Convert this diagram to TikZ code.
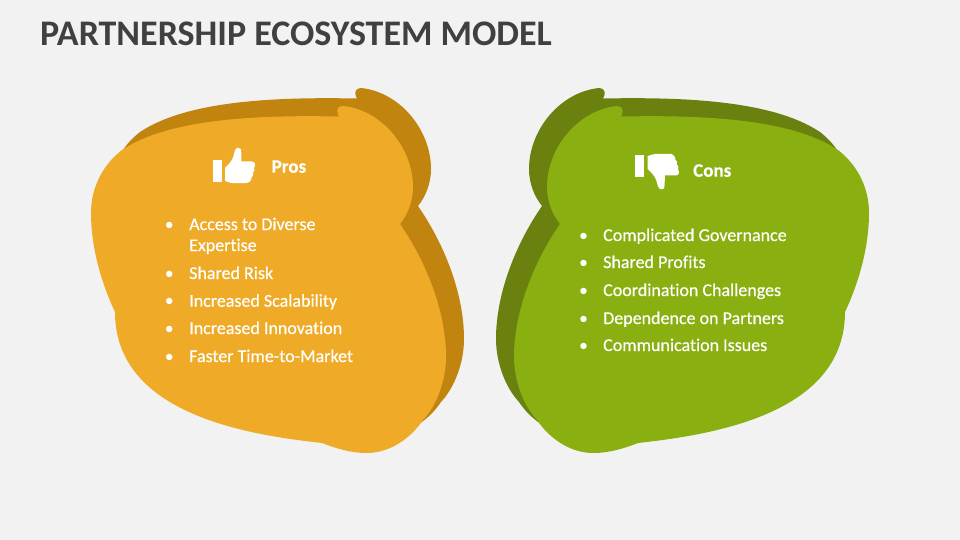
\documentclass[tikz,border=0pt]{standalone}
\usepackage{fontspec}
\setmainfont{Carlito}[Ligatures=NoCommon]
\newfontfamily\itemfont{Carlito}[Ligatures=NoCommon,FakeBold=0.35]
\newfontfamily\headfont{Carlito Bold}[Ligatures=NoCommon,FakeBold=0.3]
\definecolor{pagebg}{HTML}{F2F2F2}
\definecolor{titlegrey}{HTML}{404040}
\definecolor{orangefront}{HTML}{EFAB28}
\definecolor{orangeback}{HTML}{C1840F}
\definecolor{greenfront}{HTML}{8AAF11}
\definecolor{greenback}{HTML}{6A800F}
\newcommand{\blobshape}[1]{\fill[#1] (339,116.5)
  .. controls (337,113) and (335,107) .. (343,106)
  .. controls (382,110) and (413,148) .. (413,187)
  .. controls (413,201) and (408,214) .. (400,224)
  .. controls (425,260) and (446,310) .. (446,357)
  .. controls (446,380) and (437,405) .. (423,420)
  .. controls (411,438) and (390,453) .. (367,453)
  .. controls (350,453) and (335,448) .. (322,443)
  .. controls (250,435) and (115,415) .. (115,312)
  .. controls (100,280) and (91,245) .. (91,213)
  .. controls (91,185) and (105,163) .. (122,150)
  .. controls (170,118) and (260,115) .. (339,116.5) -- cycle;}
\newcommand{\handshape}{\fill[white] (213.3,160) rectangle (221.7,182.3);
  \fill[white] (225,168)
  .. controls (229,164) and (232,161) .. (233.5,156)
  .. controls (234.5,152) and (235,148) .. (238,147.7)
  .. controls (241,147.5) and (241.5,150) .. (241.3,153)
  -- (241.5,161.5) -- (252,161.5)
  .. controls (255.5,161.5) and (255.8,166) .. (254,167.5)
  .. controls (255,169.5) and (254.5,171.5) .. (253,172.5)
  .. controls (253.8,174.5) and (253,176.5) .. (251.5,177.5)
  .. controls (251.5,181) and (249,183.2) .. (246,183.2)
  -- (234,183.2) .. controls (230,183.2) and (228,181.5) .. (225,181) -- cycle;}
\tikzset{
  title text/.style={anchor=base west,inner sep=0pt,text=titlegrey,font=\fontsize{36}{40}\selectfont\bfseries},
  head text/.style={anchor=base west,inner sep=0pt,text=white,font=\fontsize{19}{22}\selectfont\headfont},
  item text/.style={anchor=base west,inner sep=0pt,text=white,align=left,font=\fontsize{18}{21}\selectfont\itemfont},
  dot text/.style={anchor=base,inner sep=0pt,text=white,font=\fontsize{18}{21}\selectfont}
}
\begin{document}
\begin{tikzpicture}[x=1pt,y=-1pt]
\useasboundingbox (0,0) rectangle (960,540);
\fill[pagebg] (0,0) rectangle (960,540);
\node[title text] (title) at (40,46) {PARTNERSHIP ECOSYSTEM MODEL};
% left blob
\begin{scope}[shift={(18,-18)}]\blobshape{orangeback}\end{scope}
\blobshape{orangefront}
% right blob
\begin{scope}[shift={(960,0)},xscale=-1]
  \begin{scope}[shift={(18,-18)}]\blobshape{greenback}\end{scope}
  \blobshape{greenfront}
\end{scope}
% icons
\handshape
\begin{scope}[shift={(412.5,337)},xscale=1.045,yscale=-1]
\handshape
\end{scope}
% pros
\node[head text] (pros) at (271.5,172.7) {Pros};
\node[dot text] (pd1) at (169.3,230) {•};
\node[item text,anchor=north west] (p1) at (189,217.5) {Access to Diverse\\Expertise};
\node[dot text] (pd2) at (169.3,279) {•};
\node[item text] (p2) at (189,279) {Shared Risk};
\node[dot text] (pd3) at (169.3,306.7) {•};
\node[item text] (p3) at (189,306.7) {Increased Scalability};
\node[dot text] (pd4) at (169.3,334) {•};
\node[item text] (p4) at (189,334) {Increased Innovation};
\node[dot text] (pd5) at (169.3,362) {•};
\node[item text] (p5) at (189,362) {Faster Time-to-Market};
% cons
\node[head text] (cons) at (693,176.7) {Cons};
\node[dot text] (cd1) at (583.7,241) {•};
\node[item text] (c1) at (603,241) {Complicated Governance};
\node[dot text] (cd2) at (583.7,268) {•};
\node[item text] (c2) at (603,268) {Shared Profits};
\node[dot text] (cd3) at (583.7,296) {•};
\node[item text] (c3) at (603,296) {Coordination Challenges};
\node[dot text] (cd4) at (583.7,324) {•};
\node[item text] (c4) at (603,324) {Dependence on Partners};
\node[dot text] (cd5) at (583.7,351) {•};
\node[item text] (c5) at (603,351) {Communication Issues};
\end{tikzpicture}
\end{document}
